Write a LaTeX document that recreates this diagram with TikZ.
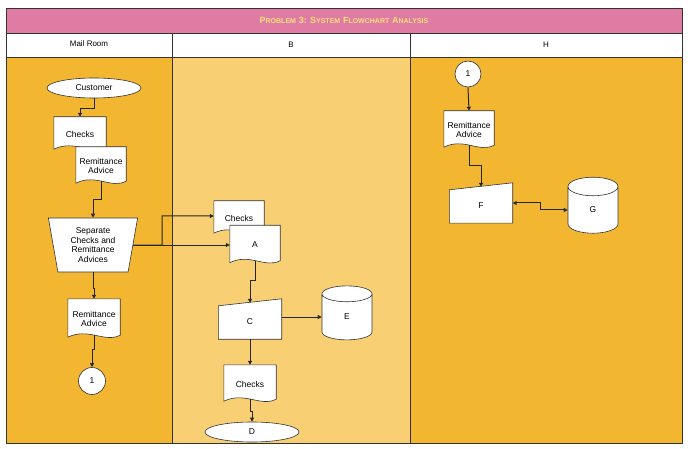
\documentclass[tikz,border=0pt]{standalone}
\usepackage{fontspec}
\setmainfont{Liberation Sans}
\usetikzlibrary{shapes.geometric,arrows.meta,calc}
\definecolor{pinkbar}{HTML}{E07BA3}
\definecolor{lane}{HTML}{F2B631}
\definecolor{lanelt}{HTML}{F8CF72}
\definecolor{ttl}{HTML}{F9E27A}
\tikzset{
 txt/.style={font=\fontsize{8.5}{9.5}\selectfont, align=center, text=black},
 ln/.style={draw=black!85, line width=1pt},
 flow/.style={ln, -{Triangle[open,length=4pt,width=4pt]}},
 both/.style={ln, {Triangle[open,length=4pt,width=4pt]}-{Triangle[open,length=4pt,width=4pt]}},
 shp/.style={draw=black!80, fill=white, line width=0.6pt},
 term/.style={shp, ellipse, txt, inner sep=0pt},
 conn/.style={shp, circle, txt, minimum size=27pt, inner sep=0pt},
 db/.style={shp, cylinder, shape border rotate=90, shape aspect=2.8, txt, minimum width=50pt, inner sep=0pt},
 trap/.style={shp, trapezium, shape border rotate=180, trapezium left angle=80, trapezium right angle=80, txt, inner sep=0pt},
 hdr/.style={font=\fontsize{8}{9}\selectfont},
}
\newcommand{\mydoc}[6]{%
 \node[txt, minimum width=#4pt, minimum height=#5pt, inner sep=0pt] (#1) at (#2,#3) {};
 \path[shp] (#1.north west) -- (#1.north east) -- (#1.south east)
   .. controls ($(#1.south east)+(-0.3*#4pt,-8pt)$) and ($(#1.south west)+(0.4*#4pt,8pt)$) .. ($(#1.south west)+(0,-2pt)$) -- cycle;
 \node[txt] at ($(#1.center)+(0,-2pt)$) {#6};}
\newcommand{\myman}[6]{%
 \node[txt, minimum width=#4pt, minimum height=#5pt, inner sep=0pt] (#1) at (#2,#3) {};
 \path[shp] ($(#1.north west)+(0,-7pt)$) -- (#1.north east) -- (#1.south east) -- (#1.south west) -- cycle;
 \node[txt] at ($(#1.center)+(0,-3pt)$) {#6};}
\begin{document}
\begin{tikzpicture}[x=1pt,y=-1pt]
\useasboundingbox (0,0) rectangle (688,449);
\fill[white] (0,0) rectangle (688,449);
\fill[lane] (6,57) rectangle (172,443);
\fill[lanelt] (172,57) rectangle (410,443);
\fill[lane] (410,57) rectangle (682,443);
\fill[pinkbar] (6,8) rectangle (682,33);
\draw[black!80, line width=0.8pt] (6,8) rectangle (682,443);
\draw[black!80, line width=0.8pt] (6,33) -- (682,33) (6,57) -- (682,57)
 (172,33) -- (172,443) (410,33) -- (410,443);
\node[font=\bfseries, text=ttl] (title) at (344,20.5) {{\fontsize{9}{9}\selectfont P}{\fontsize{7}{9}\selectfont ROBLEM} {\fontsize{9}{9}\selectfont 3: S}{\fontsize{7}{9}\selectfont YSTEM} {\fontsize{9}{9}\selectfont F}{\fontsize{7}{9}\selectfont LOWCHART} {\fontsize{9}{9}\selectfont A}{\fontsize{7}{9}\selectfont NALYSIS}};
\node[hdr] (h1) at (89,44) {Mail Room};
\node[hdr] (h2) at (291,45) {B};
\node[hdr] (h3) at (546,45) {H};
\node[term, minimum width=94pt, minimum height=20pt] (cust) at (94,88) {Customer};
\mydoc{chk1}{80}{132}{52}{30}{Checks}
\mydoc{rem1}{101}{164}{50}{34}{Remittance\\Advice}
\node[trap, minimum width=82pt, minimum height=54pt] (sep) at (93,245) {Separate\\Checks and\\Remittance\\Advices};
\mydoc{rem2}{94}{317}{52}{36}{Remittance\\Advice}
\node[conn] (c1) at (92,381) {1};
\mydoc{chk2}{239}{216}{50}{30}{Checks}
\mydoc{docA}{255}{243}{50}{35}{A}
\myman{opC}{250}{319}{63}{40}{C}
\node[db, minimum height=54pt] (E) at (347,317) {E};
\mydoc{chk3}{250}{382}{52}{34}{Checks}
\node[term, minimum width=94pt, minimum height=20pt] (D) at (252,432) {D};
\node[conn, minimum size=26pt] (c2) at (468,74) {1};
\mydoc{rem3}{469}{128}{50}{34}{Remittance\\Advice}
\myman{opF}{481}{203}{63}{40}{F}
\node[db, minimum height=56pt] (G) at (593,210) {G};
\draw[flow] (cust.south) -- ++(0,10) -| (chk1.north);
\draw[flow] (rem1.south) -- ++(0,18) -| (sep.north);
\draw[flow] (sep.east) -- (162,245) |- (chk2.west);
\draw[flow] (sep.east) -- (sep.east -| docA.west);
\draw[flow] (sep.south) -- ++(0,16) -| (rem2.north);
\draw[flow] (rem2.south) -- ++(0,14) -| (c1.north);
\draw[flow] (docA.south) -- ++(0,20) -| ($(opC.north)+(0,4)$);
\draw[flow] (opC.east |- E.west) -- (E.west);
\draw[flow] (opC.south) -- (chk3.north);
\draw[flow] (chk3.south) -- ++(0,12) -| (D.north);
\draw[flow] (c2.south) -- (rem3.north);
\draw[flow] (rem3.south) -- ++(0,20) -| ($(opF.north)+(0,4)$);
\draw[both] (opF.east) -- (540,203) |- (G.west);
\end{tikzpicture}
\end{document}
